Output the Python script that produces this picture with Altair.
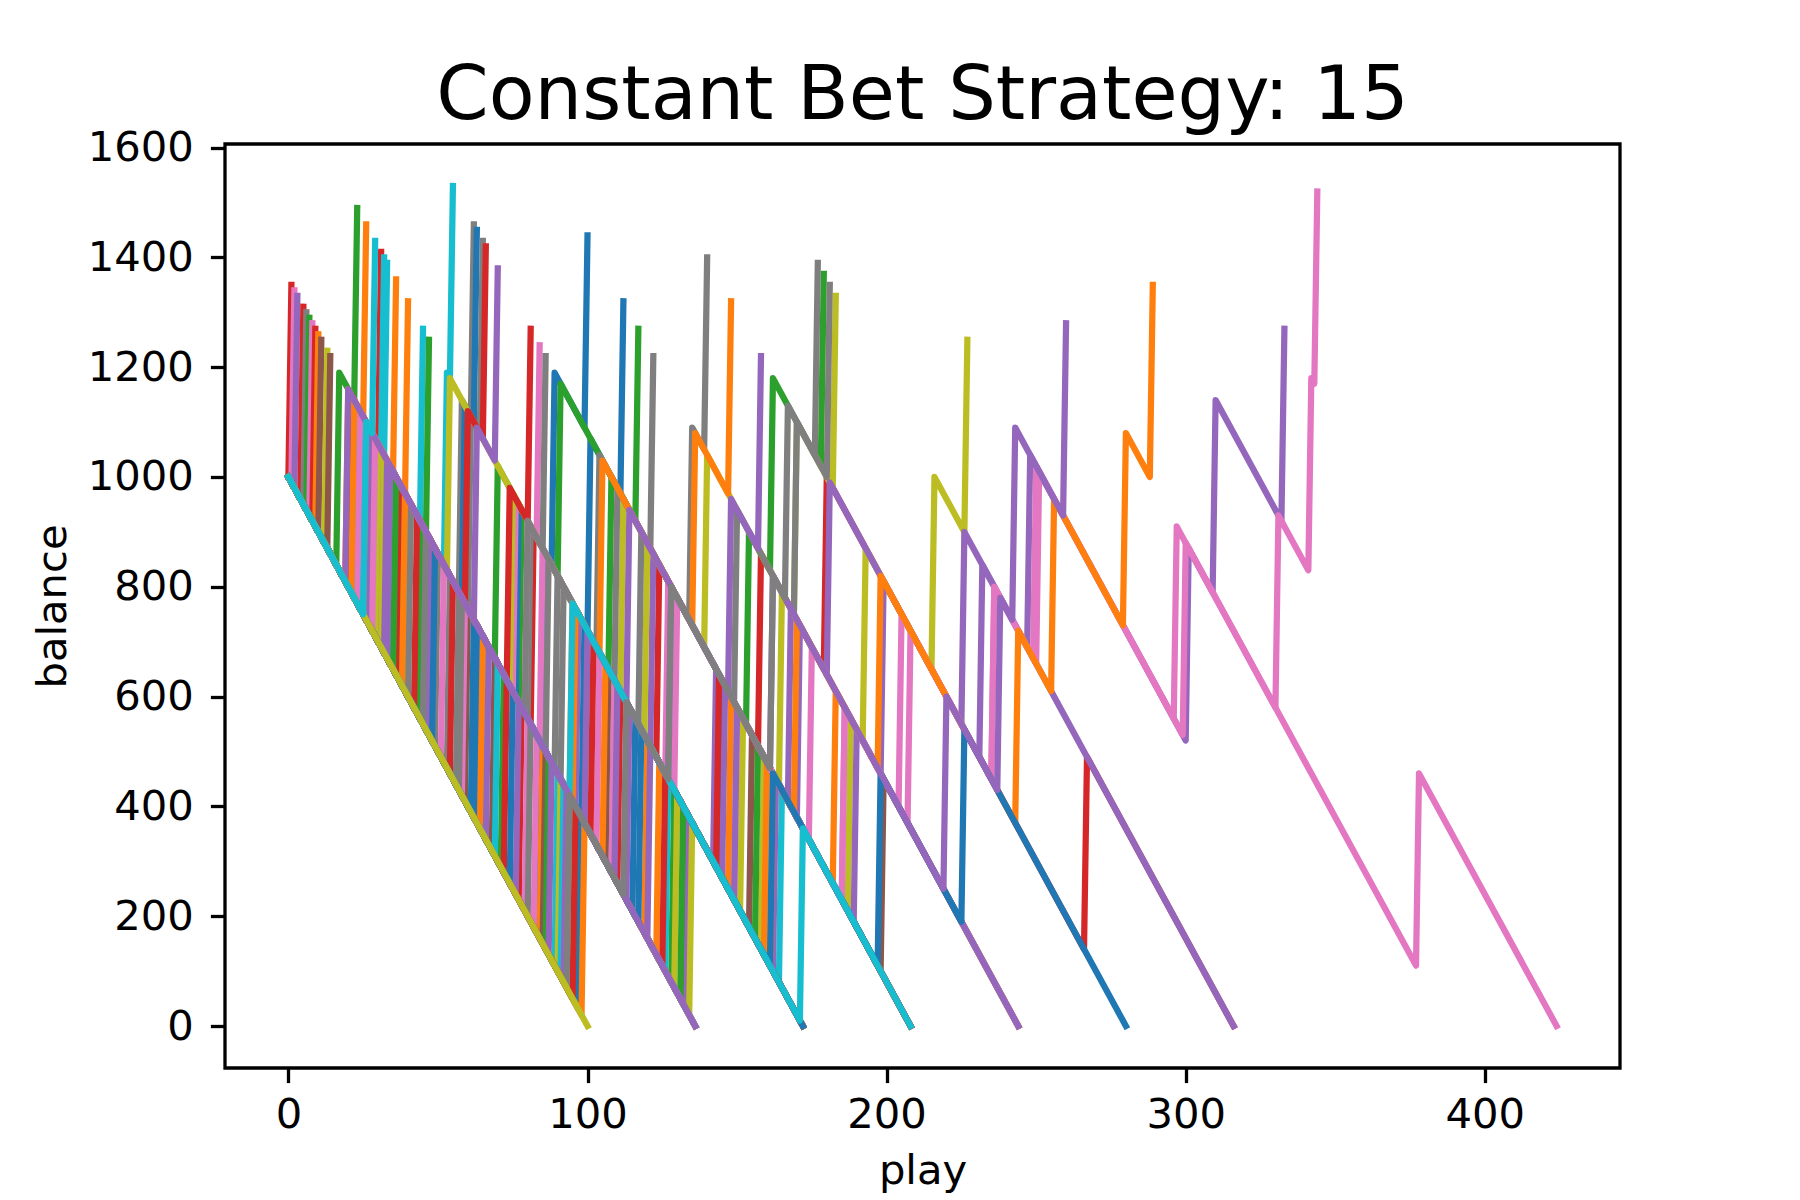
import altair as alt
import pandas as pd

# tab10 colours
BLUE, ORANGE, GREEN, RED, PURPLE = "#1f77b4", "#ff7f0e", "#2ca02c", "#d62728", "#9467bd"
BROWN, PINK, GRAY, OLIVE, CYAN = "#8c564b", "#e377c2", "#7f7f7f", "#bcbd22", "#17becf"

# ---- simulations: corner points [play, balance] ----
f01 = [[0,1000],[77,230],[78,580],[110,260],[111,610],[172,0]]
f02 = [[0,1000],[79,210],[80,560],[112,240],[113,590],[172,0]]
f03 = [[0,1000],[80,200],[81,550],[136,0]]
f04 = [[0,1000],[83,170],[84,520],[115,210],[116,560],[144,280],[145,630],[208,0]]
f05 = [[0,1000],[84,160],[85,510],[119,170],[120,520],[147,250],[148,600],[182,260],[183,610],[244,0]]
f06 = [[0,1000],[85,150],[86,500],[132,40],[133,390],[154,180],[155,530],[198,100],[199,450],[244,0]]
f07 = [[0,1000],[86,140],[87,490],[128,80],[129,430],[172,0]]
f08 = [[0,1000],[89,110],[90,460],[136,0]]
f09 = [[0,1000],[90,100],[91,450],[129,70],[130,420],[151,210],[152,560],[187,210],[188,560],[244,0]]
f10 = [[0,1000],[91,90],[92,440],[126,100],[127,450],[164,80],[165,430],[208,0]]
f11 = [[0,1000],[92,80],[93,430],[133,30],[134,380],[142,300],[143,650],[208,0]]
f12 = [[0,1000],[94,60],[95,410],[134,20],[135,370],[158,140],[159,490],[208,0]]
f13 = [[0,1000],[96,40],[97,390],[131,50],[132,400],[156,160],[157,510],[208,0]]
f14 = [[0,1000],[97,30],[98,380],[136,0]]
f15 = [[0,1000],[98,20],[99,370],[123,130],[124,480],[159,130],[160,480],[208,0]]
f16 = [[0,1000],[76,240],[77,590],[113,230],[114,580],[145,270],[146,620],[208,0]]
f18 = [[0,1000],[87,130],[88,480],[120,160],[121,510],[172,0]]
f19 = [[0,1000],[82,180],[83,530],[108,280],[109,630],[149,230],[150,580],[185,230],[186,580],[244,0]]
f20 = [[0,1000],[95,50],[96,400],[125,110],[126,460],[143,290],[144,640],[208,0]]
f21 = [[0,1000],[59,410],[60,760],[99,370],[100,720],[172,0]]
f22 = [[0,1000],[63,370],[64,720],[103,330],[104,680],[172,0]]
f23 = [[0,1000],[65,350],[66,700],[136,0]]
f24 = [[0,1000],[68,320],[69,670],[106,300],[107,650],[172,0]]
f25 = [[0,1000],[71,290],[72,640],[136,0]]
f26 = [[0,1000],[72,280],[73,630],[101,350],[102,700],[172,0]]
f27 = [[0,1000],[53,470],[54,820],[91,450],[92,800],[172,0]]
f28 = [[0,1000],[58,420],[59,770],[136,0]]
f29 = [[0,1000],[64,360],[65,710],[105,310],[106,660],[172,0]]
p_blue = [[0,1000],[74,260],[75,610],[117,190],[118,540],[172,0]]

a01 = [[0,1000],[1,1350]]
a02 = [[0,1000],[1,990],[2,1340]]
a03 = [[0,1000],[2,980],[3,1330]]
a04 = [[0,1000],[4,960],[5,1310]]
a05 = [[0,1000],[5,950],[6,1300]]
a06 = [[0,1000],[6,940],[7,1290]]
a07 = [[0,1000],[7,930],[8,1280]]
a08 = [[0,1000],[8,920],[9,1270]]
a09 = [[0,1000],[9,910],[10,1260]]
a10 = [[0,1000],[10,900],[11,1250]]
a11 = [[0,1000],[12,880],[13,1230]]
a12 = [[0,1000],[13,870],[14,1220]]

b01 = [[0,1000],[16,840],[17,1190],[22,1140],[23,1490]]
b02 = [[0,1000],[19,810],[20,1160],[25,1110],[26,1460]]
b03 = [[0,1000],[25,750],[26,1100],[28,1080],[29,1430]]
b04 = [[0,1000],[20,800],[21,1150],[30,1060],[31,1410]]
b05 = [[0,1000],[22,780],[23,1130],[31,1050],[32,1400]]
b06 = [[0,1000],[24,760],[25,1110],[32,1040],[33,1390]]
b07 = [[0,1000],[26,740],[27,1090],[35,1010],[36,1360]]
b08 = [[0,1000],[29,710],[30,1060],[39,970],[40,1320]]
b09 = [[0,1000],[34,660],[35,1010],[44,920],[45,1270]]
b10 = [[0,1000],[37,630],[38,980],[46,900],[47,1250]]

c01 = [[0,1000],[39,610],[40,960],[52,840],[53,1190],[54,1180],[55,1530]]
c02 = [[0,1000],[44,560],[45,910],[57,790],[58,1140],[61,1110],[62,1460]]
c03 = [[0,1000],[47,530],[48,880],[58,780],[59,1130],[62,1100],[63,1450]]
c04 = [[0,1000],[49,510],[50,860],[60,760],[61,1110],[64,1080],[65,1430]]
c05 = [[0,1000],[42,580],[43,930],[59,770],[60,1120],[65,1070],[66,1420]]
c06 = [[0,1000],[46,540],[47,890],[62,740],[63,1090],[69,1030],[70,1380]]
c07 = [[0,1000],[54,460],[55,810],[73,630],[74,980],[80,920],[81,1270]]
c08 = [[0,1000],[51,490],[52,840],[75,610],[76,960],[83,890],[84,1240]]
c09 = [[0,1000],[56,440],[57,790],[80,560],[81,910],[85,870],[86,1220]]

d01 = [[0,1000],[48,520],[49,870],[76,600],[77,950],[88,840],[89,1190],[99,1090],[100,1440]]
d02 = [[0,1000],[61,390],[62,740],[85,510],[86,860],[100,720],[101,1070],[111,970],[112,1320]]
d03 = [[0,1000],[43,570],[44,920],[69,670],[70,1020],[90,820],[91,1170],[116,920],[117,1270]]
d04 = [[0,1000],[57,430],[58,780],[89,470],[90,820],[103,690],[104,1040],[121,870],[122,1220]]

e01 = [[0,1000],[45,550],[46,900],[79,570],[80,920],[109,630],[110,980],[134,740],[135,1090],[139,1050],[140,1400]]
e02 = [[0,1000],[38,620],[39,970],[94,420],[95,770],[104,680],[105,1030],[135,730],[136,1080],[147,970],[148,1320]]
e03 = [[0,1000],[32,680],[33,1030],[95,410],[96,760],[113,590],[114,940],[147,610],[148,960],[157,870],[158,1220]]

g_f1 = [[0,1000],[93,70],[94,420],[112,240],[113,590],[127,450],[128,800],[161,470],[162,820],[166,780],[167,1130],[176,1040],[177,1390]]
g_f2 = [[0,1000],[35,650],[36,1000],[77,590],[78,940],[107,650],[108,1000],[153,550],[154,900],[161,830],[162,1180],[178,1020],[179,1370]]
g_f3 = [[0,1000],[40,600],[41,950],[86,500],[87,850],[117,550],[118,900],[149,590],[150,940],[169,750],[170,1100],[180,1000],[181,1350]]
g_f4 = [[0,1000],[31,690],[32,1040],[53,830],[54,1180],[111,610],[112,960],[139,690],[140,1040],[169,750],[170,1100],[182,980],[183,1330]]

olive_g = [[0,1000],[29,710],[30,1060],[74,620],[75,970],[119,530],[120,880],[164,440],[165,790],[192,520],[193,870],[215,650],[216,1000],[226,900],[227,1250]]
purple_h = [[0,1000],[33,670],[34,1020],[99,370],[100,720],[127,450],[128,800],[161,470],[162,820],[219,250],[220,600],[237,430],[238,780],[242,740],[243,1090],[259,930],[260,1280]]
orange_i = [[0,1000],[21,790],[22,1140],[95,410],[96,760],[161,110],[162,460],[169,390],[170,740],[197,470],[198,820],[243,370],[244,720],[255,610],[256,960],[279,730],[280,1080],[288,1000],[289,1350]]
purple_j = [[0,1000],[27,730],[28,1080],[96,400],[97,750],[162,100],[163,450],[170,380],[171,730],[180,640],[181,990],[225,550],[226,900],[247,690],[248,1040],[300,520],[301,870],[309,790],[310,1140],[332,920],[333,1270]]
pink_1 = [[0,1000],[28,720],[29,1070],[84,520],[85,870],[129,430],[130,780],[185,230],[186,580],[204,400],[205,750],[235,450],[236,800],[249,670],[250,1020],[296,560],[297,910],[330,580],[331,930],[341,830],[342,1180],[343,1170],[344,1520]]
pink_2 = [[0,1000],[23,770],[24,1120],[79,570],[80,920],[126,460],[127,810],[174,340],[175,690],[207,370],[208,720],[235,450],[236,800],[250,660],[251,1010],[299,530],[300,880],[377,110],[378,460],[424,0]]
purple_k = [[0,1000],[30,700],[31,1050],[75,610],[76,960],[121,510],[122,860],[167,410],[168,760],[198,460],[199,810],[231,490],[232,840],[316,0]]
red_l = [[0,1000],[36,640],[37,990],[81,550],[82,900],[123,490],[124,840],[157,510],[158,860],[179,650],[180,1000],[266,140],[267,490],[316,0]]
blue_m = [[0,1000],[62,380],[63,730],[98,380],[99,730],[161,110],[162,460],[197,110],[198,460],[225,190],[226,540],[280,0]]
purple_n = [[0,1000],[66,340],[67,690],[109,270],[110,620],[149,230],[150,580],[189,190],[190,540],[244,0]]
cyan_o = [[0,1000],[69,310],[70,660],[94,420],[95,770],[171,10],[172,360],[208,0]]
purple_q = [[0,1000],[19,810],[20,1160],[136,0]]
olive_r = [[0,1000],[100,0]]

# drawing order (first drawn at the bottom) and colour of each run
draw_order = [
    (f01, RED), (f02, PINK), (f03, GRAY), (f04, BLUE), (f05, ORANGE), (f06, BROWN),
    (f07, GREEN), (f08, CYAN), (f09, OLIVE), (f10, CYAN), (f11, PURPLE), (f12, OLIVE),
    (f13, GREEN), (f14, BLUE), (f15, ORANGE), (f16, PURPLE), (f18, PURPLE), (f19, PINK),
    (f20, RED), (f21, BROWN), (f22, PINK), (f23, OLIVE), (f24, BROWN), (f25, GREEN),
    (f26, RED), (f27, GRAY), (f28, PINK), (f29, ORANGE), (p_blue, BLUE),
    (a01, RED), (a02, PINK), (a03, PURPLE), (a04, RED), (a05, GRAY), (a06, GREEN),
    (a07, PINK), (a08, RED), (a09, ORANGE), (a10, BROWN), (a11, OLIVE), (a12, BROWN),
    (b01, GREEN), (b02, ORANGE), (b04, RED), (b05, CYAN), (b06, CYAN), (b07, ORANGE),
    (b08, ORANGE), (b09, CYAN), (b10, GREEN),
    (c01, CYAN), (c02, GRAY), (c03, BLUE), (c04, GRAY), (purple_n, PURPLE), (red_l, RED),
    (purple_k, PURPLE), (g_f2, GREEN), (d01, BLUE), (d02, BLUE), (d03, GREEN), (c08, PINK),
    (olive_g, OLIVE),
    (g_f4, OLIVE),
    (c05, RED), (c06, PURPLE), (c07, RED), (c09, GRAY),
    (g_f3, GRAY),
    (purple_j, PURPLE), (pink_1, PINK), (pink_2, PINK),
    (e01, GRAY), (d04, GRAY), (e02, ORANGE), (e03, PURPLE),
    (orange_i, ORANGE), (blue_m, BLUE), (purple_h, PURPLE), (cyan_o, CYAN),
    (purple_q, PURPLE), (g_f1, GRAY), (olive_r, OLIVE), (b03, CYAN),
]

rows = []
for idx, (pts, col) in enumerate(draw_order):
    for j, (px, py) in enumerate(pts):
        rows.append({"sim": f"s{idx:03d}", "play": px, "balance": py, "k": j})
df = pd.DataFrame(rows)

x_enc = alt.X("play:Q", scale=alt.Scale(domain=[-21.2, 445.2], nice=False, zero=False),
              axis=alt.Axis(values=[0, 100, 200, 300, 400], title="play", format="d",
                            labelFlush=False, labelPadding=12, titlePadding=14))
y_enc = alt.Y("balance:Q", scale=alt.Scale(domain=[-76.5, 1606.5], nice=False, zero=False),
              axis=alt.Axis(values=[0, 200, 400, 600, 800, 1000, 1200, 1400, 1600],
                            title="balance", format="d", labelFlush=False,
                            labelPadding=17, titlePadding=13))

layers = []
for idx, (pts, col) in enumerate(draw_order):
    layers.append(
        alt.Chart()
        .transform_filter(alt.datum.sim == f"s{idx:03d}")
        .mark_line(color=col, strokeWidth=6.25, strokeCap="square", strokeJoin="round")
        .encode(x=x_enc, y=y_enc, order="k:Q")
    )

chart = (
    alt.layer(*layers, data=df)
    .properties(
        width=1395, height=924,
        title=alt.TitleParams("Constant Bet Strategy: 15", font="DejaVu Sans", fontSize=75,
                              fontWeight="normal", anchor="middle", offset=24, dy=31,
                              color="black"),
        autosize=alt.AutoSizeParams(type="none"),
        padding={"left": 217, "top": 136, "right": 150, "bottom": 130},
    )
    .configure_view(stroke="black", strokeWidth=3.3)
    .configure_axis(grid=False, domain=False, tickColor="black", tickWidth=3.3, tickSize=14.6,
                    labelFont="DejaVu Sans", labelFontSize=41.7, labelColor="black",
                    titleFont="DejaVu Sans", titleFontSize=41.7,
                    titleFontWeight="normal", titleColor="black")
)

chart.save("out.html", embed_options={"renderer": "svg", "actions": False})
